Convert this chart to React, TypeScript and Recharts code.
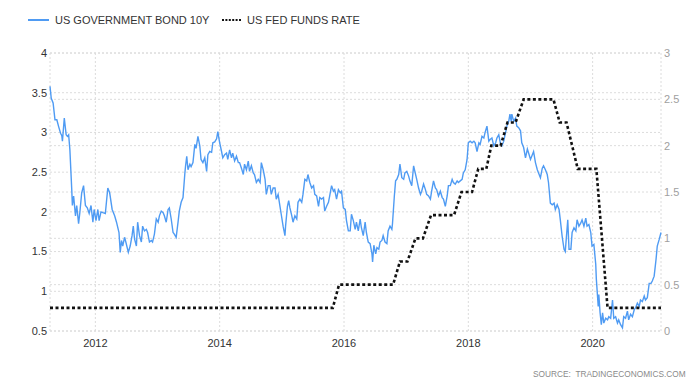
import { LineChart, Line, XAxis, YAxis, CartesianGrid } from "recharts"

// year fraction -> 10y yield
const bondTimes = [
  2011.27, 2011.29, 2011.32, 2011.35, 2011.38, 2011.41, 2011.44, 2011.46, 2011.47, 2011.5,
  2011.53, 2011.55, 2011.57, 2011.59, 2011.62, 2011.63, 2011.65, 2011.68, 2011.7, 2011.73,
  2011.75, 2011.78, 2011.81, 2011.84, 2011.87, 2011.9, 2011.93, 2011.96, 2011.98, 2012.01,
  2012.04, 2012.06, 2012.09, 2012.12, 2012.16, 2012.2, 2012.23, 2012.27, 2012.31, 2012.34,
  2012.38, 2012.4, 2012.42, 2012.44, 2012.47, 2012.49, 2012.53, 2012.56, 2012.59, 2012.61,
  2012.63, 2012.66, 2012.68, 2012.71, 2012.74, 2012.76, 2012.79, 2012.82, 2012.84, 2012.87,
  2012.9, 2012.92, 2012.95, 2012.98, 2013.01, 2013.03, 2013.06, 2013.09, 2013.11, 2013.14,
  2013.17, 2013.19, 2013.22, 2013.25, 2013.27, 2013.3, 2013.33, 2013.35, 2013.38, 2013.41,
  2013.44, 2013.45, 2013.47, 2013.49, 2013.52, 2013.54, 2013.57, 2013.6, 2013.62, 2013.65,
  2013.68, 2013.7, 2013.73, 2013.76, 2013.79, 2013.81, 2013.84, 2013.87, 2013.89, 2013.92,
  2013.95, 2013.97, 2014.0, 2014.03, 2014.05, 2014.08, 2014.11, 2014.13, 2014.16, 2014.19,
  2014.21, 2014.24, 2014.27, 2014.3, 2014.32, 2014.35, 2014.38, 2014.4, 2014.43, 2014.46,
  2014.48, 2014.51, 2014.54, 2014.56, 2014.59, 2014.62, 2014.65, 2014.67, 2014.7, 2014.73,
  2014.75, 2014.78, 2014.81, 2014.83, 2014.86, 2014.89, 2014.91, 2014.94, 2014.97, 2014.99,
  2015.02, 2015.05, 2015.06, 2015.09, 2015.11, 2015.13, 2015.16, 2015.18, 2015.21, 2015.24,
  2015.26, 2015.29, 2015.32, 2015.34, 2015.37, 2015.4, 2015.42, 2015.45, 2015.48, 2015.51,
  2015.53, 2015.56, 2015.59, 2015.61, 2015.64, 2015.67, 2015.69, 2015.72, 2015.75, 2015.77,
  2015.8, 2015.83, 2015.85, 2015.88, 2015.91, 2015.94, 2015.96, 2015.99, 2016.02, 2016.04,
  2016.07, 2016.1, 2016.12, 2016.15, 2016.18, 2016.2, 2016.23, 2016.26, 2016.28, 2016.31,
  2016.34, 2016.36, 2016.39, 2016.42, 2016.45, 2016.46, 2016.48, 2016.51, 2016.53, 2016.56,
  2016.58, 2016.61, 2016.63, 2016.66, 2016.69, 2016.71, 2016.74, 2016.77, 2016.78, 2016.81,
  2016.83, 2016.85, 2016.88, 2016.9, 2016.93, 2016.96, 2016.98, 2017.01, 2017.04, 2017.06,
  2017.09, 2017.12, 2017.14, 2017.17, 2017.2, 2017.23, 2017.25, 2017.28, 2017.31, 2017.33,
  2017.36, 2017.39, 2017.41, 2017.44, 2017.47, 2017.49, 2017.52, 2017.55, 2017.58, 2017.6,
  2017.63, 2017.66, 2017.68, 2017.71, 2017.74, 2017.76, 2017.79, 2017.82, 2017.84, 2017.87,
  2017.9, 2017.92, 2017.95, 2017.98, 2018.0, 2018.03, 2018.06, 2018.09, 2018.11, 2018.14,
  2018.17, 2018.19, 2018.22, 2018.25, 2018.27, 2018.3, 2018.33, 2018.35, 2018.38, 2018.41,
  2018.44, 2018.46, 2018.49, 2018.52, 2018.54, 2018.57, 2018.6, 2018.62, 2018.65, 2018.67,
  2018.69, 2018.7, 2018.73, 2018.76, 2018.78, 2018.81, 2018.84, 2018.86, 2018.89, 2018.92,
  2018.95, 2018.97, 2019.0, 2019.03, 2019.05, 2019.08, 2019.11, 2019.13, 2019.16, 2019.19,
  2019.21, 2019.24, 2019.27, 2019.29, 2019.32, 2019.35, 2019.38, 2019.4, 2019.43, 2019.46,
  2019.48, 2019.51, 2019.54, 2019.56, 2019.6, 2019.62, 2019.65, 2019.67, 2019.7, 2019.73,
  2019.75, 2019.78, 2019.81, 2019.83, 2019.86, 2019.89, 2019.91, 2019.94, 2019.97, 2019.99,
  2020.02, 2020.05, 2020.06, 2020.09, 2020.1, 2020.12, 2020.14, 2020.16, 2020.18, 2020.21,
  2020.24, 2020.26, 2020.29, 2020.32, 2020.34, 2020.37, 2020.4, 2020.42, 2020.45, 2020.48,
  2020.5, 2020.53, 2020.56, 2020.58, 2020.61, 2020.64, 2020.67, 2020.69, 2020.72, 2020.75,
  2020.77, 2020.8, 2020.83, 2020.85, 2020.88, 2020.91, 2020.94, 2020.96, 2020.99, 2021.02,
  2021.04, 2021.07, 2021.1,
]

const bondYields = [
  3.58, 3.43, 3.37, 3.16, 3.16, 3.07, 2.99, 2.96, 2.89, 3.18,
  2.97, 2.95, 2.97, 2.78, 2.28, 2.08, 2.2, 1.95, 2.08, 1.85,
  1.99, 2.24, 2.33, 2.08, 2.05, 1.98, 2.08, 1.87, 2.03, 1.89,
  2.03, 1.89, 2.0, 1.99, 1.98, 2.3, 2.24, 2.03, 1.95, 1.87,
  1.74, 1.49, 1.64, 1.57, 1.68, 1.62, 1.49, 1.57, 1.7, 1.82,
  1.66, 1.57, 1.87, 1.7, 1.62, 1.82, 1.76, 1.78, 1.74, 1.62,
  1.64, 1.62, 1.72, 1.91, 1.87, 1.95, 2.01, 1.99, 1.95, 1.87,
  2.03, 2.05, 1.91, 1.74, 1.72, 1.68, 1.87, 2.01, 2.12, 2.18,
  2.49, 2.57, 2.7, 2.53, 2.6, 2.57, 2.62, 2.85, 2.8, 2.95,
  2.83, 2.66, 2.62, 2.68, 2.51, 2.72, 2.76, 2.75, 2.87, 2.88,
  2.92, 3.01, 2.87, 2.76, 2.68, 2.72, 2.74, 2.66, 2.78, 2.68,
  2.74, 2.64, 2.7, 2.62, 2.62, 2.55, 2.47, 2.6, 2.53, 2.64,
  2.51, 2.58, 2.49, 2.47, 2.37, 2.41, 2.37, 2.62, 2.53, 2.41,
  2.22, 2.33, 2.33, 2.22, 2.3, 2.3, 2.16, 2.22, 2.07, 1.97,
  1.82, 1.7, 1.82, 2.07, 2.14, 2.05, 1.95, 1.87, 1.95, 1.91,
  2.12, 2.16, 2.12, 2.22, 2.41, 2.39, 2.47, 2.37, 2.3, 2.33,
  2.22, 2.2, 2.07, 2.18, 2.16, 2.18, 2.01, 2.07, 2.12, 2.2,
  2.33, 2.26, 2.28, 2.16, 2.28, 2.24, 2.26, 2.05, 2.03, 1.89,
  1.76, 1.76, 1.97, 1.89, 1.78, 1.87, 1.76, 1.91, 1.8, 1.7,
  1.87, 1.74, 1.62, 1.6, 1.47, 1.37, 1.58, 1.47, 1.55, 1.53,
  1.62, 1.64, 1.7, 1.62, 1.6, 1.76, 1.82, 1.78, 1.85, 2.2,
  2.39, 2.41, 2.47, 2.6, 2.43, 2.41, 2.49, 2.51, 2.45, 2.39,
  2.33, 2.58, 2.51, 2.41, 2.3, 2.22, 2.26, 2.35, 2.28, 2.22,
  2.2, 2.16, 2.26, 2.39, 2.3, 2.28, 2.2, 2.26, 2.18, 2.16,
  2.07, 2.2, 2.33, 2.33, 2.41, 2.37, 2.35, 2.39, 2.37, 2.39,
  2.41, 2.49, 2.53, 2.66, 2.87, 2.89, 2.87, 2.89, 2.87, 2.76,
  2.87, 2.85, 2.95, 2.93, 3.0, 3.08, 2.89, 2.91, 2.93, 2.83,
  2.87, 2.93, 2.97, 2.85, 2.83, 2.89, 3.0, 3.08, 3.14, 3.23,
  3.14, 3.23, 3.14, 3.18, 3.08, 3.06, 3.02, 2.87, 2.81, 2.68,
  2.79, 2.74, 2.66, 2.72, 2.76, 2.62, 2.53, 2.49, 2.43, 2.55,
  2.58, 2.53, 2.47, 2.37, 2.11, 2.09, 2.11, 2.03, 2.09, 2.03,
  1.9, 1.69, 1.53, 1.5, 1.9, 1.53, 1.53, 1.74, 1.8, 1.76,
  1.9, 1.82, 1.86, 1.9, 1.82, 1.92, 1.82, 1.84, 1.74, 1.57,
  1.59, 1.34, 1.15, 0.81, 0.96, 0.73, 0.58, 0.73, 0.6, 0.66,
  0.64, 0.68, 0.66, 0.89, 0.66, 0.68, 0.6, 0.64, 0.58, 0.54,
  0.68, 0.66, 0.75, 0.64, 0.71, 0.68, 0.77, 0.79, 0.85, 0.81,
  0.89, 0.87, 0.94, 0.89, 0.92, 1.1, 1.1, 1.13, 1.19, 1.4,
  1.57, 1.65, 1.74,
]

// fed funds rate: corners of the stepped line
const fedTimes = [
  2011.27, 2015.82, 2015.92, 2016.79, 2016.9, 2017.02, 2017.15, 2017.27, 2017.4, 2017.77,
  2017.89, 2018.06, 2018.16, 2018.29, 2018.37, 2018.52, 2018.63, 2018.76, 2018.89, 2019.37,
  2019.47, 2019.58, 2019.76, 2020.06, 2020.24, 2021.1,
]
const fedRates = [
  0.25, 0.25, 0.5, 0.5, 0.75, 0.75, 1.0, 1.0, 1.25, 1.25,
  1.5, 1.5, 1.75, 1.75, 2.0, 2.0, 2.25, 2.25, 2.5, 2.5,
  2.25, 2.25, 1.75, 1.75, 0.25, 0.25,
]

const yearTicks = [2012, 2014, 2016, 2018, 2020]
const leftTicks = [0.5, 1, 1.5, 2, 2.5, 3, 3.5, 4]
const rightTicks = [0, 0.5, 1, 1.5, 2, 2.5, 3]

const bondData = bondTimes.map((t, i) => ({ t, bond: bondYields[i] }))
const fedData = fedTimes.map((t, i) => ({ t, fed: fedRates[i] }))

const BLUE = "#4f9bf3"
const FONT = "'Liberation Sans', Arial, sans-serif"

export default function App() {
  return (
    <div style={{ position: "absolute", left: 0, top: 0, width: 692, height: 391, background: "#fff", fontFamily: FONT }}>
      {/* legend */}
      <svg width={692} height={34} style={{ position: "absolute", left: 0, top: 0 }}>
        <line x1={28} y1={20} x2={49} y2={20} stroke={BLUE} strokeWidth={2} />
        <text x={55} y={24} fontSize={11} fill="#333" fontFamily={FONT}>US GOVERNMENT BOND 10Y</text>
        <line x1={222} y1={20} x2={241} y2={20} stroke="#111" strokeWidth={2} strokeDasharray="2 1.4" />
        <text x={247} y={24} fontSize={11} fill="#333" fontFamily={FONT}>US FED FUNDS RATE</text>
      </svg>

      <LineChart width={692} height={391} margin={{ top: 53, right: 0, bottom: 0, left: 0 }}>
        <CartesianGrid yAxisId="left" stroke="#dcdcdc" strokeDasharray="2 2" />
        <CartesianGrid yAxisId="right" stroke="#dcdcdc" strokeDasharray="2 2" vertical={false} />
        <XAxis
          dataKey="t"
          type="number"
          domain={[2011.27, 2021.1]}
          ticks={yearTicks}
          axisLine={false}
          tickLine={false}
          tickSize={0}
          tickMargin={8}
          height={60}
          tick={{ fontSize: 11, fill: "#333", fontFamily: FONT }}
          allowDuplicatedCategory={false}
        />
        <YAxis
          yAxisId="left"
          domain={[0.5, 4]}
          ticks={leftTicks}
          width={50}
          axisLine={false}
          tickLine={false}
          tickSize={0}
          tickMargin={3}
          tick={{ fontSize: 11, fill: "#333", fontFamily: FONT }}
        />
        <YAxis
          yAxisId="right"
          orientation="right"
          domain={[0, 3]}
          ticks={rightTicks}
          width={31}
          axisLine={false}
          tickLine={false}
          tickSize={0}
          tickMargin={3}
          tick={{ fontSize: 11, fill: "#a0a0a0", fontFamily: FONT }}
        />
        <Line
          yAxisId="left"
          data={bondData}
          dataKey="bond"
          type="linear"
          stroke={BLUE}
          strokeWidth={1.4}
          dot={false}
          isAnimationActive={false}
        />
        <Line
          yAxisId="right"
          data={fedData}
          dataKey="fed"
          type="linear"
          stroke="#111"
          strokeWidth={2.6}
          strokeDasharray="3 2.5"
          dot={false}
          isAnimationActive={false}
        />
      </LineChart>

      <div style={{ position: "absolute", left: 533, top: 369, fontSize: 8.3, lineHeight: "10px", color: "#8a8a8a", whiteSpace: "nowrap" }}>
        SOURCE:&nbsp;&nbsp;TRADINGECONOMICS.COM
      </div>
    </div>
  )
}
